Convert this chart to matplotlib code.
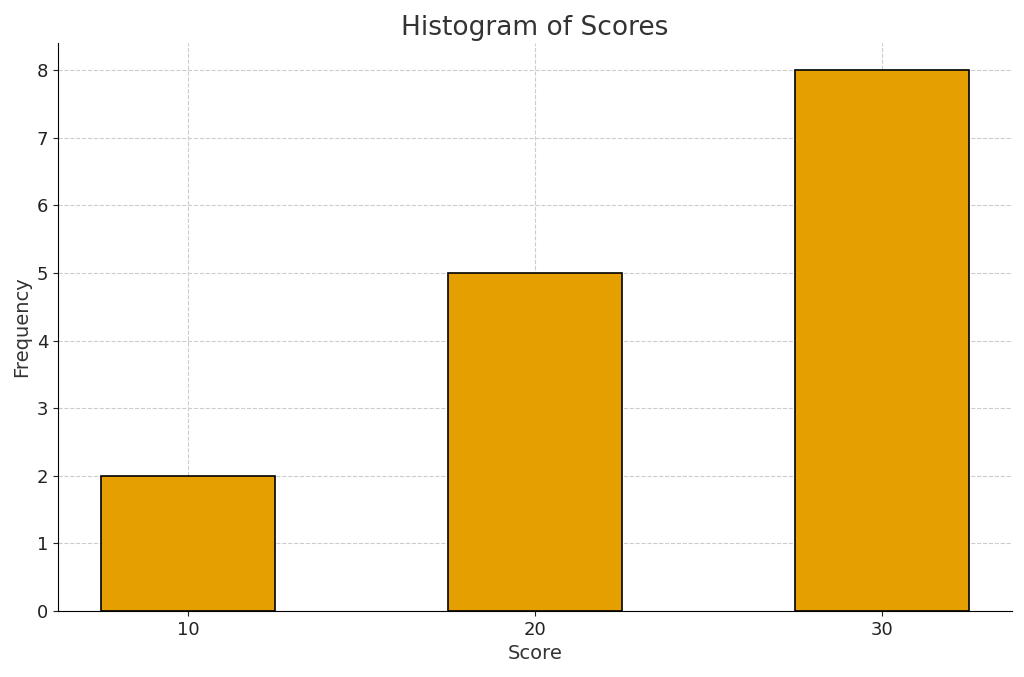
import matplotlib
matplotlib.use("Agg")
import matplotlib.pyplot as plt

scores = [10, 20, 30]
freqs = [2, 5, 8]

fig = plt.figure(figsize=(10.24, 6.77), dpi=100)
ax = fig.add_axes([58/1024, 1-611/677, (1012-58)/1024, (611-43)/677])
ax.bar(scores, freqs, width=5, color="#E69F00", edgecolor="black", linewidth=1.2, zorder=2)
ax.set_xticks(scores)
ax.grid(True, linestyle="--", color="#cccccc", linewidth=0.8, zorder=0)
ax.set_axisbelow(True)
for s in ["top", "right"]:
    ax.spines[s].set_visible(False)
ax.tick_params(labelsize=13, colors="#222222")
ax.set_xlabel("Score", fontsize=14, color="#333333")
ax.set_ylabel("Frequency", fontsize=14, color="#333333")
ax.set_title("Histogram of Scores", fontsize=19, color="#333333", pad=6)
fig.savefig("out.png", dpi=100)
